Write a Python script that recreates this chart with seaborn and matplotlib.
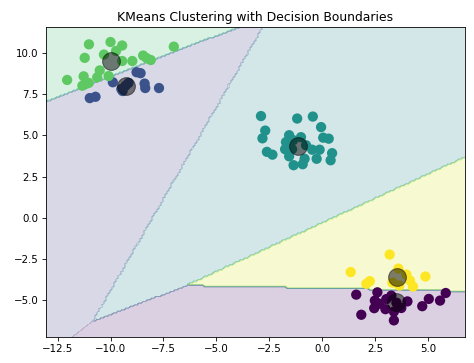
import matplotlib
matplotlib.use("Agg")
import matplotlib.pyplot as plt
import numpy as np
import pandas as pd
import seaborn as sns

# points, one pair of lists per cluster (label order 0..4)
purple_x = [1.61, 2.61, 2.49, 2.46, 3.03, 2.99, 3.39, 3.74, 4.03, 5.04, 5.57, 5.84, 4.73, 1.85, 3.39, 3.51, 3.27, 2.70]
purple_y = [-4.66, -4.52, -5.02, -5.48, -4.93, -5.54, -5.69, -5.47, -5.07, -4.92, -5.02, -4.56, -5.36, -5.88, -6.22, -5.15, -4.72, -5.21]

blue_x = [-9.89, -9.49, -9.29, -9.15, -8.77, -8.58, -8.39, -8.36, -7.71, -10.98, -10.71, -9.43]
blue_y = [8.22, 7.81, 8.01, 8.18, 8.83, 8.77, 8.14, 7.87, 7.87, 7.26, 7.34, 7.69]

teal_x = [-2.89, -1.18, -0.44, -0.05, -2.69, -2.82, 0.05, 0.31, -2.61, -2.35, -0.47, -0.12, 0.47,
          0.40, -0.26, -1.35, -0.92, -0.83, -1.56, -1.71, -1.75, -1.56, -1.37, -1.00, -1.42, -0.76]
teal_y = [6.17, 6.02, 6.14, 5.50, 5.29, 4.82, 4.86, 4.80, 4.00, 3.83, 4.13, 4.13, 3.92,
          3.49, 3.58, 3.19, 3.25, 3.58, 5.01, 4.59, 4.16, 3.73, 4.71, 4.89, 4.16, 4.40]

green_x = [-11.02, -10.00, -9.45, -7.01, -11.22, -10.31, -9.74, -9.45, -8.97, -8.46, -8.29, -8.10,
           -10.51, -11.27, -10.63, -12.05, -11.18, -11.03, -11.33, -10.09]
green_y = [10.52, 10.66, 10.45, 10.38, 9.70, 9.90, 10.12, 9.51, 9.51, 9.84, 9.68, 9.57,
           8.94, 8.58, 8.52, 8.36, 8.11, 8.18, 8.01, 8.60]

yellow_x = [3.19, 1.35, 2.09, 2.25, 4.88, 3.98, 4.15, 4.29, 3.60, 3.32, 3.65]
yellow_y = [-2.23, -3.29, -4.00, -3.84, -3.56, -3.44, -3.81, -4.17, -3.08, -3.93, -4.11]

# cluster centres (label order 0..4)
center_x = [3.51, -9.26, -1.15, -10.00, 3.55]
center_y = [-5.13, 8.01, 4.36, 9.50, -3.58]

clusters = [(purple_x, purple_y), (blue_x, blue_y), (teal_x, teal_y), (green_x, green_y), (yellow_x, yellow_y)]
df = pd.concat(
    [pd.DataFrame({"x": cx, "y": cy, "label": k}) for k, (cx, cy) in enumerate(clusters)],
    ignore_index=True,
)

# decision regions: nearest centre on a mesh
h = 0.1
x_min, x_max = df["x"].min() - 1, df["x"].max() + 1
y_min, y_max = df["y"].min() - 1, df["y"].max() + 1
xx, yy = np.meshgrid(np.arange(x_min, x_max, h), np.arange(y_min, y_max, h))
cx = np.array(center_x)[:, None, None]
cy = np.array(center_y)[:, None, None]
Z = np.argmin((xx[None] - cx) ** 2 + (yy[None] - cy) ** 2, axis=0)

fig, ax = plt.subplots(figsize=(474 / 74, 363 / 74), dpi=74)
fig.subplots_adjust(left=0.097, right=0.981, bottom=0.072, top=0.926)

ax.contourf(xx, yy, Z, alpha=0.2, cmap="viridis")
sns.scatterplot(data=df, x="x", y="y", hue="label", palette="viridis", s=100,
                linewidth=0, legend=False, ax=ax)
ax.scatter(center_x, center_y, c="black", s=300, alpha=0.5)

ax.set_xlim(xx.min(), xx.max())
ax.set_ylim(yy.min(), yy.max())
ax.set_xlabel("")
ax.set_ylabel("")
ax.set_title("KMeans Clustering with Decision Boundaries")

fig.savefig("out.png", dpi=74)
plt.close(fig)
